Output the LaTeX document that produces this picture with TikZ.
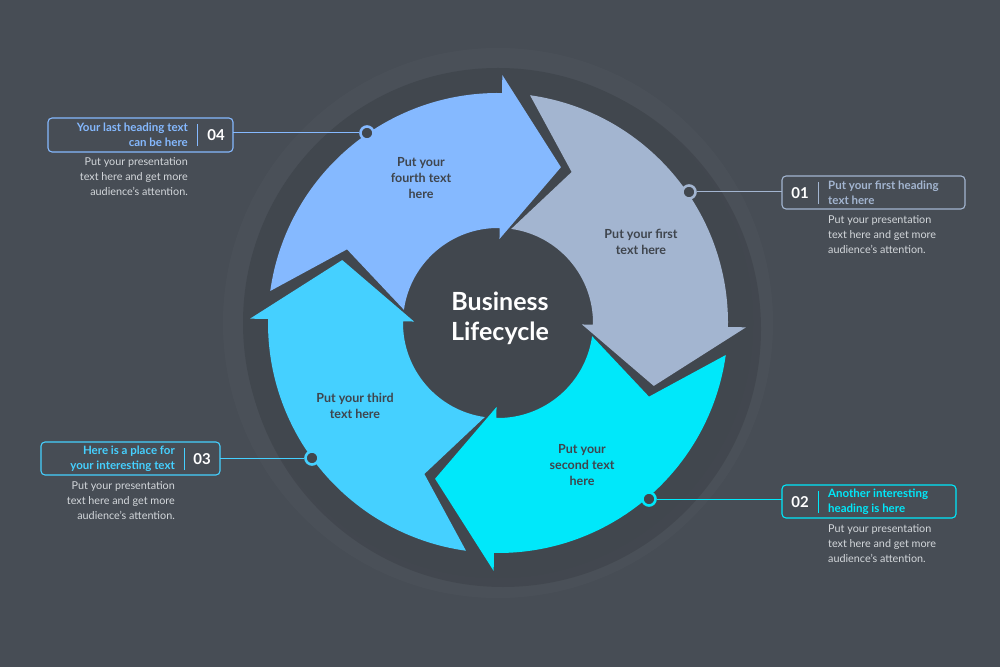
\documentclass[tikz,border=0pt]{standalone}
\usepackage{fontspec}
\setmainfont{Lato}
\definecolor{bg}{HTML}{474D55}
\definecolor{disk}{HTML}{41474E}
\definecolor{cA}{HTML}{A3B5D0}
\definecolor{cB}{HTML}{00E8FA}
\definecolor{cC}{HTML}{45D0FF}
\definecolor{cD}{HTML}{85B9FF}
\definecolor{segtxt}{HTML}{3F454D}
\definecolor{body}{HTML}{D3D7DB}
\newcommand\arrowseg[2]{%
\fill[#2] ({#1+83}:230pt) arc[start angle={#1+83}, end angle={#1}, radius=230pt] -- ({#1}:248pt) -- ({#1-21}:168pt) -- ({#1}:84pt) -- ({#1}:95pt) arc[start angle={#1}, end angle={#1+83}, radius=95pt] -- ({#1+65}:168pt) -- cycle;}
\tikzset{
 segl/.style={font=\bfseries\fontsize{12.5}{16}\selectfont, text=segtxt, align=center},
 hbox/.style={draw=#1, line width=1.1pt, rounded corners=4pt, minimum height=34pt},
 head/.style={font=\bfseries\fontsize{11.5}{15}\selectfont, text=#1, inner sep=0pt},
 num/.style={font=\bfseries\fontsize{15}{18}\selectfont, text=white, inner sep=0pt},
 bodyl/.style={font=\fontsize{10.8}{15}\selectfont, text=body, inner sep=0pt},
 mark/.style={circle, draw=#1, line width=2.6pt, fill=disk, minimum size=13pt, inner sep=0pt},
 conn/.style={draw=#1, line width=1pt}
}
\begin{document}
\begin{tikzpicture}[x=1pt,y=1pt]
\fill[bg] (0,0) rectangle (1000,667);
\useasboundingbox (0,0) rectangle (1000,667);
\fill[white, opacity=0.02] (498,344) circle[radius=275pt];
\fill[black, opacity=0.10] (503,338) circle[radius=258pt];
\fill[disk] (498,344) circle[radius=255pt];
\begin{scope}[shift={(498,344)}]
\arrowseg{-1}{cA}
\arrowseg{269}{cB}
\arrowseg{179}{cC}
\arrowseg{89}{cD}
\end{scope}
\node[segl] (t4) at (421,489) {Put your\\fourth text\\here};
\node[segl] (t1) at (641,425) {Put your first\\text here};
\node[segl] (t2) at (582,202) {Put your\\second text\\here};
\node[segl] (t3) at (355,261) {Put your third\\text here};
\node[font=\bfseries\fontsize{25}{30}\selectfont, text=white, align=center] (title) at (500,349) {Business\\Lifecycle};
% markers
\node[mark=cD] (m4) at (367,534) {};
\node[mark=cA] (m1) at (689,475) {};
\node[mark=cB] (m2) at (649,168) {};
\node[mark=cC] (m3) at (312,209) {};
% box 04
\draw[hbox=cD] (48,515) rectangle (233,549);
\node[head=cD, anchor=east, align=right] (h4) at (188,532) {Your last heading text\\can be here};
\draw[cD, line width=1pt] (197,521) -- (197,543);
\node[num] (n4) at (216,532) {04};
\coordinate (b4) at (233,534);
\draw[conn=cD] (b4) -- (m4);
\node[bodyl, anchor=north east, align=right] (d4) at (188,510) {Put your presentation\\text here and get more\\audience's attention.};
% box 01
\draw[hbox=cA] (782,458) rectangle (965,491);
\node[num] (n1) at (800,474) {01};
\draw[cA, line width=1pt] (818,463) -- (818,485);
\node[head=cA, anchor=west, align=left] (h1) at (828,474) {Put your first heading\\text here};
\coordinate (b1) at (782,475);
\draw[conn=cA] (m1) -- (b1);
\node[bodyl, anchor=north west, align=left] (d1) at (828,452) {Put your presentation\\text here and get more\\audience's attention.};
% box 02
\draw[hbox=cB] (782,149) rectangle (956,182);
\node[num] (n2) at (800,165) {02};
\draw[cB, line width=1pt] (818,154) -- (818,176);
\node[head=cB, anchor=west, align=left] (h2) at (828,165) {Another interesting\\heading is here};
\coordinate (b2) at (782,168);
\draw[conn=cB] (m2) -- (b2);
\node[bodyl, anchor=north west, align=left] (d2) at (828,143) {Put your presentation\\text here and get more\\audience's attention.};
% box 03
\draw[hbox=cC] (41,192) rectangle (220,225);
\node[head=cC, anchor=east, align=right] (h3) at (175,208) {Here is a place for\\your interesting text};
\draw[cC, line width=1pt] (184,197) -- (184,219);
\node[num] (n3) at (202,208) {03};
\coordinate (b3) at (220,209);
\draw[conn=cC] (b3) -- (m3);
\node[bodyl, anchor=north east, align=right] (d3) at (175,186) {Put your presentation\\text here and get more\\audience's attention.};
\end{tikzpicture}
\end{document}
